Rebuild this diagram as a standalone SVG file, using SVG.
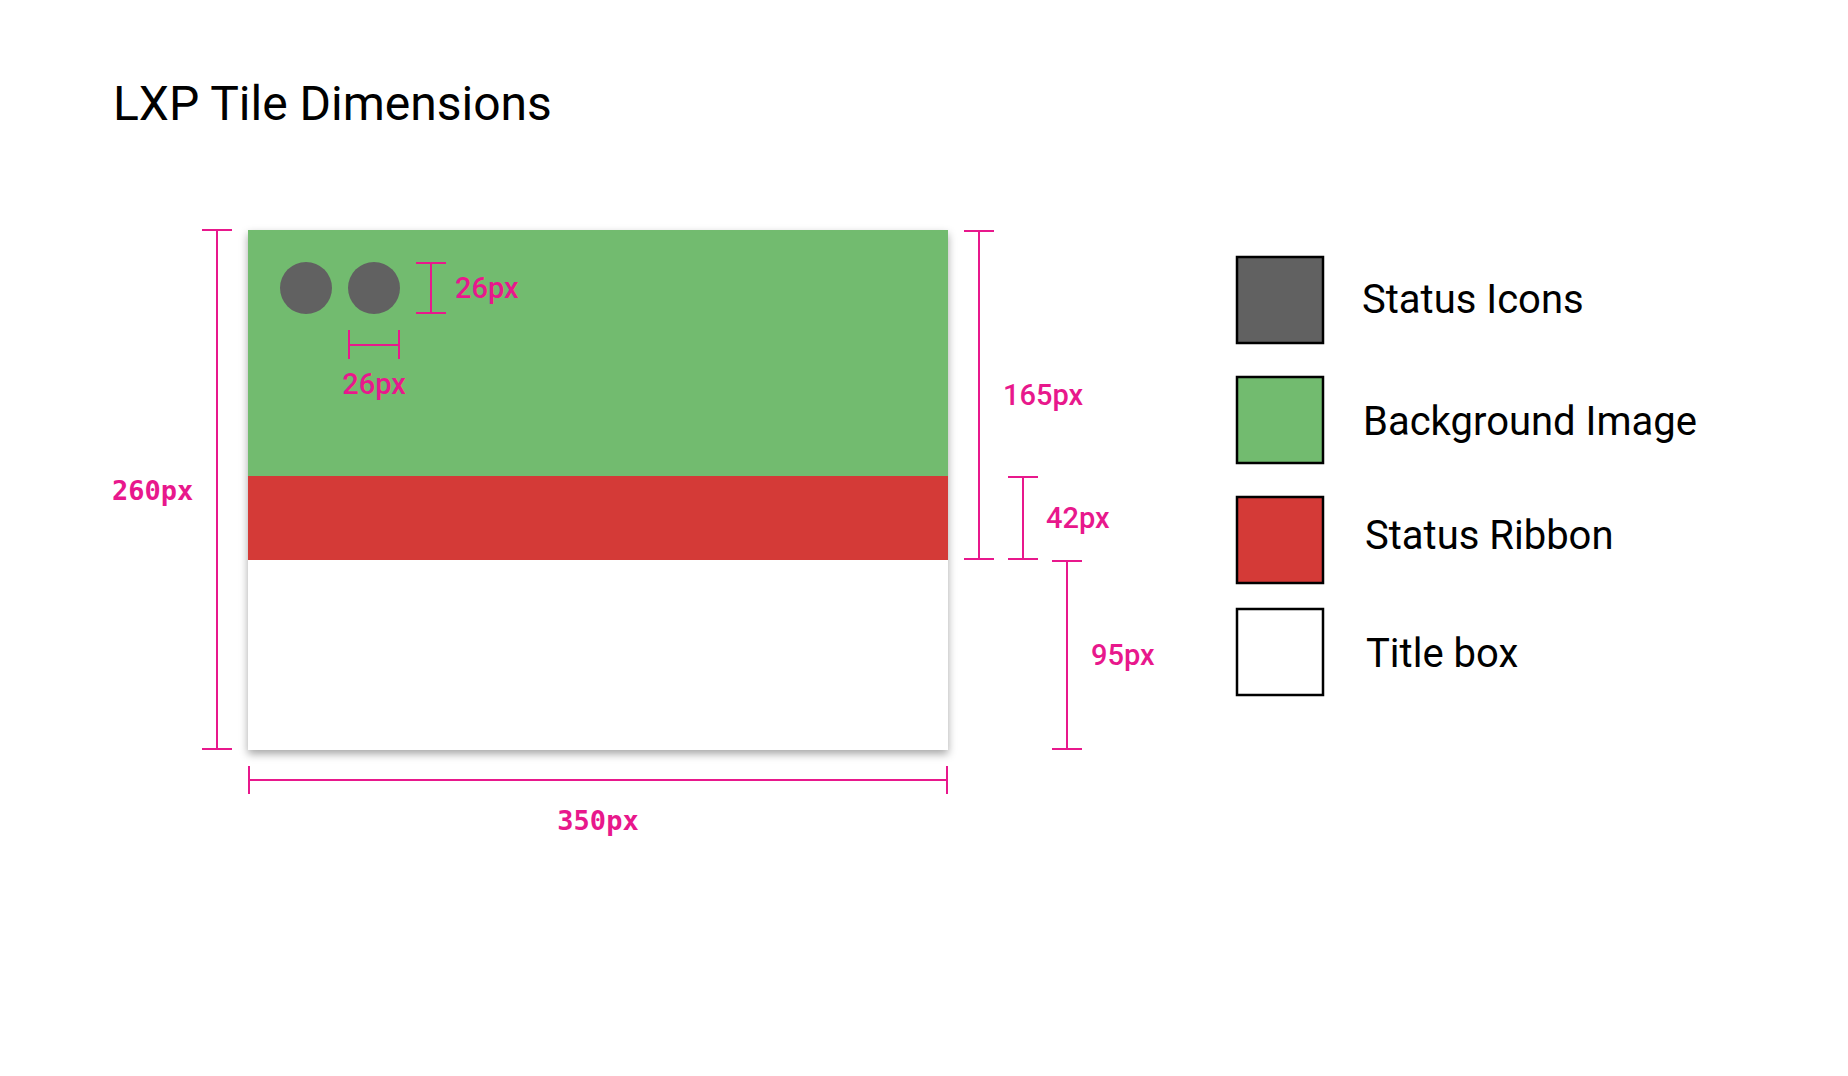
<svg xmlns="http://www.w3.org/2000/svg" width="1848" height="1076" viewBox="0 0 1848 1076">
<style>
.dim{stroke:#E8188C;stroke-width:2;fill:none}
.lbl{fill:#E8188C;font-family:Roboto,"Liberation Sans",sans-serif;font-size:29px;font-weight:500}
.mono{fill:#E8188C;font-family:"DejaVu Sans Mono","Liberation Mono",monospace;font-size:27px;font-weight:bold}
.leg{font-family:Roboto,"Liberation Sans",sans-serif;font-size:40px;fill:#000}
.sw{stroke:#000;stroke-width:2.5}
</style>
<defs>
<filter id="sh" x="-5%" y="-5%" width="110%" height="115%">
<feDropShadow dx="0" dy="4" stdDeviation="4" flood-color="#000" flood-opacity="0.35"/>
</filter>
</defs>
<rect width="1848" height="1076" fill="#fff"/>
<text x="113" y="120" font-family="Roboto,'Liberation Sans',sans-serif" font-size="48" fill="#000">LXP Tile Dimensions</text>

<g id="tile">
<rect x="248" y="230" width="700" height="520" fill="#fff" filter="url(#sh)"/>
<rect x="248" y="230" width="700" height="246" fill="#72BB6F"/>
<rect x="248" y="476" width="700" height="84" fill="#D43A37"/>
<circle cx="306" cy="288" r="26" fill="#616161"/>
<circle cx="374" cy="288" r="26" fill="#616161"/>
</g>

<g id="dimensions">
<path class="dim" d="M217 230V749M202 230H232M202 749H232"/>
<text class="mono" x="112" y="500">260px</text>
<path class="dim" d="M431 263V313M416 263H446M416 313H446"/>
<text class="lbl" x="455" y="298">26px</text>
<path class="dim" d="M349 345H399M349 330V359M399 330V359"/>
<text class="lbl" x="374" y="394" text-anchor="middle">26px</text>
<path class="dim" d="M979 231V559M964 231H994M964 559H994"/>
<text class="lbl" x="1003" y="405">165px</text>
<path class="dim" d="M1023 477V559M1008 477H1038M1008 559H1038"/>
<text class="lbl" x="1046" y="528">42px</text>
<path class="dim" d="M1067 561V749M1052 561H1082M1052 749H1082"/>
<text class="lbl" x="1091" y="665">95px</text>
<path class="dim" d="M249 780H947M249 766V794M947 766V794"/>
<text class="mono" x="598" y="830" text-anchor="middle">350px</text>
</g>

<g id="legend-status-icons">
<rect class="sw" x="1237" y="257" width="86" height="86" fill="#616161"/>
<text class="leg" x="1362" y="313">Status Icons</text>
</g>
<g id="legend-background">
<rect class="sw" x="1237" y="377" width="86" height="86" fill="#72BB6F"/>
<text class="leg" x="1363" y="435">Background Image</text>
</g>
<g id="legend-ribbon">
<rect class="sw" x="1237" y="497" width="86" height="86" fill="#D43A37"/>
<text class="leg" x="1365" y="549">Status Ribbon</text>
</g>
<g id="legend-title">
<rect class="sw" x="1237" y="609" width="86" height="86" fill="#fff"/>
<text class="leg" x="1366" y="667">Title box</text>
</g>
</svg>
